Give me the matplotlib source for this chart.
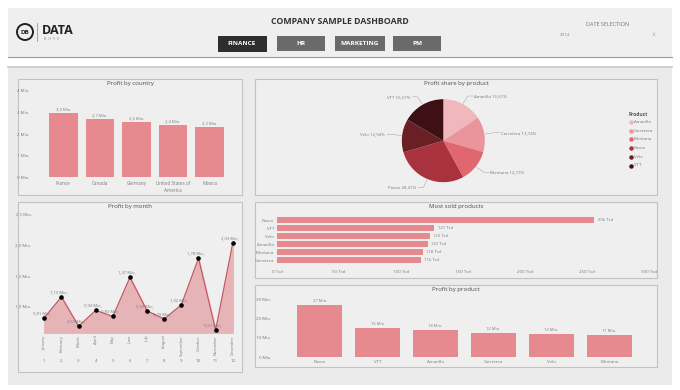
import numpy as np
import matplotlib
matplotlib.use("Agg")
import matplotlib.pyplot as plt
from matplotlib.patches import Rectangle, Circle

plt.rcParams['font.family'] = ['Open Sans', 'DejaVu Sans']

# ---- data ----
countries = ["France", "Canada", "Germany", "United States of\nAmerica", "Mexico"]
country_profit = [2.96, 2.71, 2.56, 2.43, 2.31]  # Mio.

products_pie = ["Amarilla", "Carretera", "Montana", "Paseo", "Velo", "VTT"]
profit_share = [15.61, 13.74, 12.73, 28.41, 12.94, 16.57]  # %
pie_colors = ["#f0b7bc", "#e9959b", "#e0666f", "#a8323e", "#6a1f25", "#3e0f14"]

months = ["January", "February", "March", "April", "May", "June", "July",
          "August", "September", "October", "November", "December"]
month_profit = [0.81, 1.15, 0.67, 0.93, 0.83, 1.47, 0.92, 0.79, 1.02, 1.78, 0.61, 2.03]

sold_products = ["Paseo", "VTT", "Velo", "Amarilla", "Montana", "Carretera"]
units_sold = [256, 127, 123, 122, 118, 116]  # Tsd

profit_products = ["Paseo", "VTT", "Amarilla", "Carretera", "Velo", "Montana"]
product_profit = [27.0, 15.0, 14.1, 12.4, 12.0, 11.4]  # Mio.

BAR = "#e68a90"
TXT = "#7a7a7a"
TITLE = "#4a4a4a"
W, H = 680, 390

fig = plt.figure(figsize=(W / 100, H / 100), dpi=100)
fig.patch.set_facecolor("#ffffff")

# background canvas in pixel coordinates
bg = fig.add_axes([0, 0, 1, 1])
bg.set_xlim(0, W)
bg.set_ylim(H, 0)
bg.axis("off")


def rect(x0, y0, x1, y1, fc, ec="none", lw=0.8, z=0):
    bg.add_patch(Rectangle((x0, y0), x1 - x0, y1 - y0, facecolor=fc,
                           edgecolor=ec, linewidth=lw, zorder=z))


def ax_px(x0, y0, x1, y1):
    a = fig.add_axes([x0 / W, 1 - y1 / H, (x1 - x0) / W, (y1 - y0) / H])
    a.set_facecolor("none")
    for s in a.spines.values():
        s.set_visible(False)
    a.tick_params(length=0, colors=TXT, labelsize=3.2)
    return a


# header
rect(8, 8, 672, 57, "#efefef")
bg.plot([8, 672], [57, 57], color="#9a9a9a", lw=0.8)
bg.add_patch(Circle((25, 32), 8, facecolor="none", edgecolor="#222", lw=1.4))
bg.text(25, 32.5, "DB", ha="center", va="center", fontsize=4.5, color="#222", weight="bold")
bg.plot([37, 37], [23, 41], color="#999", lw=0.6)
bg.text(42, 30, "DATA", ha="left", va="center", fontsize=9, weight="bold", color="#222")
bg.text(44, 39.5, "B  H  Y  E", ha="left", va="center", fontsize=2.6, color="#888")
bg.text(340, 21.5, "COMPANY SAMPLE DASHBOARD", ha="center", va="center",
        fontsize=6.3, weight="bold", color="#333")
buttons = [("FINANCE", 218, 266, "#2e2e2e"), ("HR", 277, 325, "#6a6a6a"),
           ("MARKETING", 335, 385, "#6a6a6a"), ("PM", 393, 441, "#6a6a6a")]
for label, x0, x1, c in buttons:
    rect(x0, 36, x1, 51, c, ec="#1a1a1a" if label == "FINANCE" else "none", lw=0.6, z=2)
    bg.text((x0 + x1) / 2, 43.8, label, ha="center", va="center", fontsize=4.6,
            weight="bold", color="white", zorder=3)
bg.text(608, 24, "DATE SELECTION", ha="center", va="center", fontsize=4, color="#777")
bg.text(560, 35, "2014", ha="left", va="center", fontsize=3.2, color="#888")
bg.text(653, 35, "\u2228", ha="center", va="center", fontsize=4, color="#aaa")

# main area
rect(8, 67, 672, 385, "#ebebeb")
bg.plot([8, 672], [67, 67], color="#c8c8c8", lw=1.2)

panels = [(18, 79, 242, 195, "Profit by country"),
          (255, 79, 657, 195, "Profit share by product"),
          (18, 202, 242, 372, "Profit by month"),
          (255, 202, 657, 278, "Most sold products"),
          (255, 285, 657, 367, "Profit by product")]
for x0, y0, x1, y1, t in panels:
    rect(x0, y0, x1, y1, "#efefef", ec="#c2c2c2", lw=0.8, z=1)
    bg.text((x0 + x1) / 2, y0 + 4.5, t, ha="center", va="center", fontsize=4.3,
            color=TITLE, zorder=2)

# profit by country
ax = ax_px(45, 90.7, 228, 177.3)
xs = np.arange(len(countries))
ax.bar(xs, country_profit, width=0.78, color=BAR)
ax.set_xlim(-0.5, len(countries) - 0.5)
ax.set_ylim(0, 4)
ax.set_yticks(range(5), [f"{v} Mio." for v in range(5)])
ax.tick_params(axis="y", pad=11)
ax.set_xticks(xs, countries, fontsize=3.3, linespacing=1.3)
ax.tick_params(axis="x", pad=3)
for x, v in zip(xs, country_profit):
    ax.text(x, v + 0.08, f"{v:.1f} Mio.".replace(".", ",", 1), ha="center",
            va="bottom", fontsize=3, color=TXT)

# profit share pie
ax = ax_px(401.8 - 10, 99.2 - 10, 484.8 + 10, 182.2 + 10)
ax.set_aspect("equal")
wedges, _ = ax.pie(profit_share, colors=pie_colors, startangle=90, counterclock=False,
                   radius=1.0)
ax.set_xlim(-1.241, 1.241)
ax.set_ylim(-1.241, 1.241)
for w, name, v in zip(wedges, products_pie, profit_share):
    ang = np.deg2rad((w.theta1 + w.theta2) / 2)
    cx, cy = np.cos(ang), np.sin(ang)
    p0 = (1.02 * cx, 1.02 * cy)
    p1 = (1.25 * cx, 1.22 * cy)
    side = 1 if cx >= 0 else -1
    p2 = (p1[0] + side * 0.12, p1[1])
    ax.plot([p0[0], p1[0], p2[0]], [p0[1], p1[1], p2[1]], color="#aaa", lw=0.4,
            clip_on=False)
    ax.text(p2[0] + side * 0.04, p2[1], f"{name} {v:.2f}%".replace(".", ","),
            ha="left" if side > 0 else "right", va="center", fontsize=3.2,
            color=TXT, clip_on=False)
bg.text(629, 115, "Product", ha="left", va="center", fontsize=3.5, weight="bold",
        color="#555", zorder=3)
for i, (name, c) in enumerate(zip(products_pie, pie_colors)):
    y = 122 + i * 8.7
    bg.plot(631, y, "o", ms=2.2, color=c, zorder=3)
    bg.text(634, y, name, ha="left", va="center", fontsize=3.2, color=TXT, zorder=3)

# profit by month
ax = ax_px(35.7, 214, 241.3, 332.7)
mx = np.arange(1, len(months) + 1)
ax.fill_between(mx, month_profit, 0.565, color="#e6b3b7")
ax.plot(mx, month_profit, color="#c4545d", lw=0.8)
ax.plot(mx, month_profit, "o", color="black", ms=2.3, clip_on=False)
ax.set_xlim(0.5, 12.5)
ax.set_ylim(0.565, 2.5)
ax.set_yticks([1.0, 1.5, 2.0, 2.5], ["1,0 Mio.", "1,5 Mio.", "2,0 Mio.", "2,5 Mio."])
ax.tick_params(axis="y", pad=3)
ax.set_xticks(mx, months, rotation=90, fontsize=2.9, va="top")
ax.tick_params(axis="x", pad=2)
for x in mx:
    ax.text(x, -0.24, str(x), transform=ax.get_xaxis_transform(), ha="center",
            va="center", fontsize=3.2, color=TXT)
for x, v in zip(mx, month_profit):
    ax.text(x - 0.15, v + 0.05, f"{v:.2f} Mio.".replace(".", ","), ha="center",
            va="bottom", fontsize=3, color=TXT)

# most sold products
ax = ax_px(277, 216, 649, 264)
ys = np.arange(len(sold_products))
ax.barh(ys, units_sold, height=0.75, color=BAR)
ax.set_ylim(len(sold_products) - 0.5, -0.5)
ax.set_xlim(0, 300)
ax.set_yticks(ys, sold_products)
ax.tick_params(axis="y", pad=2)
ax.set_xticks(range(0, 301, 50), [f"{v} Tsd" for v in range(0, 301, 50)])
ax.tick_params(axis="x", pad=4)
for y, v in zip(ys, units_sold):
    ax.text(v + 2.5, y, f"{v} Tsd", ha="left", va="center", fontsize=3, color=TXT)

# profit by product
ax = ax_px(290.7, 299.3, 638.5, 357.3)
px = np.arange(len(profit_products))
ax.bar(px, product_profit, width=0.77, color=BAR)
ax.set_xlim(-0.5, len(profit_products) - 0.5)
ax.set_ylim(0, 30)
ax.set_yticks([0, 10, 20, 30], [f"{v} Mio." for v in (0, 10, 20, 30)])
ax.tick_params(axis="y", pad=14)
ax.set_xticks(px, profit_products)
ax.tick_params(axis="x", pad=2)
for x, v in zip(px, product_profit):
    ax.text(x, v + 1.2, f"{v:.0f} Mio.", ha="center", va="bottom", fontsize=3,
            color=TXT)

fig.savefig("out.png", dpi=100, facecolor=fig.get_facecolor())
